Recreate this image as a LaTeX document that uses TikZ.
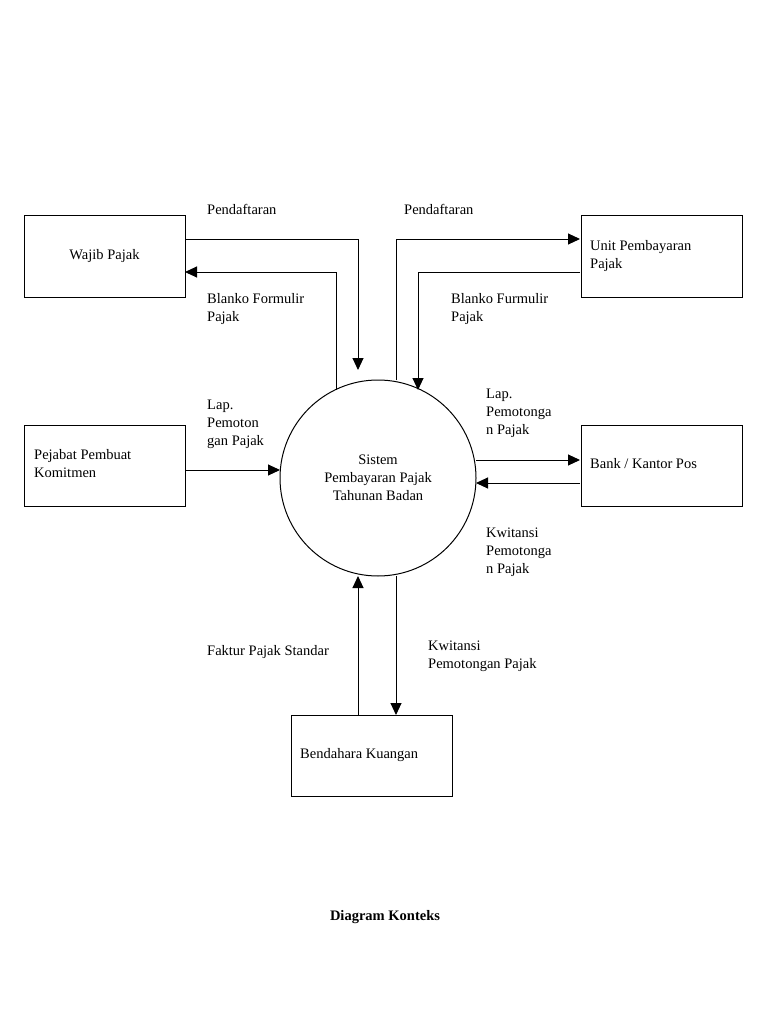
\documentclass[tikz,border=0pt]{standalone}
\usepackage{fontspec}
\setmainfont{Liberation Serif}
\usetikzlibrary{arrows.meta}
\begin{document}
\begin{tikzpicture}[x=1pt,y=-1pt,
  box/.style={draw,line width=1pt,minimum width=161pt,minimum height=81pt,inner sep=0pt},
  flow/.style={line width=1pt,-{Triangle[length=12pt,width=11pt]}},
  lbl/.style={anchor=north west,inner sep=0pt,align=left,font=\fontsize{14.5}{18}\selectfont},
  font=\fontsize{14.5}{18}\selectfont]
\useasboundingbox (0,0) rectangle (768,1024);
\node[box] (wp) at (104.5,256.5) {};
\node at (104.5,256.5) {Wajib Pajak};
\node[box] (up) at (662,256.5) {};
\node[lbl] at (590,240) {Unit Pembayaran\\Pajak};
\node[box] (pp) at (104.5,465.5) {};
\node[lbl] at (34,449) {Pejabat Pembuat\\Komitmen};
\node[box] (bk) at (662,465.5) {};
\node[lbl] at (590,458) {Bank / Kantor Pos};
\node[box] (bd) at (372,755.5) {};
\node[lbl] at (300,748) {Bendahara Kuangan};
\node[draw,circle,line width=1pt,minimum size=196pt,inner sep=0pt] (c) at (378,478) {};
\node[align=center] at (378,478) {Sistem\\Pembayaran Pajak\\Tahunan Badan};
\coordinate (a1) at (185,239);
\draw[flow] (a1) -- (358,239) -- (358,370);
\coordinate (a2) at (336,390);
\draw[flow] (a2) -- (336,272) -- (185,272);
\coordinate (a3) at (396,380);
\draw[flow] (a3) -- (396,239) -- (580,239);
\coordinate (a4) at (580,272);
\draw[flow] (a4) -- (418,272) -- (418,390);
\draw[flow] (185,470) -- (280,470);
\draw[flow] (476,460) -- (580,460);
\draw[flow] (580,483) -- (476,483);
\draw[flow] (358,715) -- (358,576);
\draw[flow] (396,576) -- (396,715);
\node[lbl] at (207,204) {Pendaftaran};
\node[lbl] at (404,204) {Pendaftaran};
\node[lbl] at (207,293) {Blanko Formulir\\Pajak};
\node[lbl] at (451,293) {Blanko Furmulir\\Pajak};
\node[lbl] at (207,400) {Lap.\\Pemoton\\gan Pajak};
\node[lbl] at (486,389) {Lap.\\Pemotonga\\n Pajak};
\node[lbl] at (486,528) {Kwitansi\\Pemotonga\\n Pajak};
\node[lbl] at (207,645) {Faktur Pajak Standar};
\node[lbl] at (428,641) {Kwitansi\\Pemotongan Pajak};
\node[font=\fontsize{14.5}{18}\selectfont\bfseries] at (385,917) {Diagram Konteks};
\end{tikzpicture}
\end{document}
